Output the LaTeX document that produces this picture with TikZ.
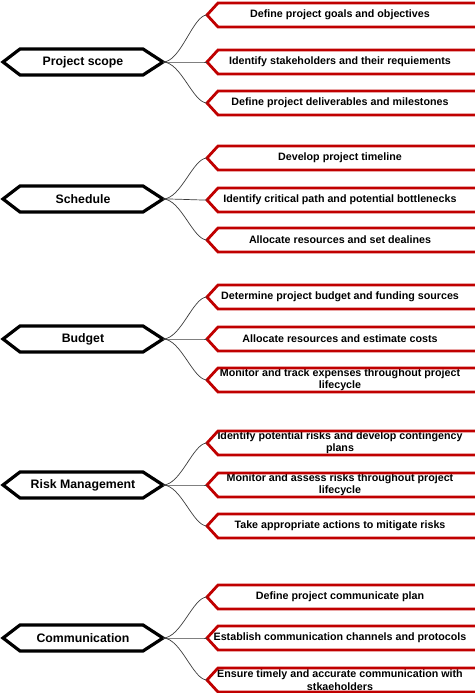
\documentclass[tikz,border=0pt]{standalone}
\usepackage{fontspec}
\setmainfont{Liberation Sans}
\definecolor{boxred}{RGB}{192,0,0}
\definecolor{linkgray}{RGB}{60,60,60}
\tikzset{
  parentbox/.style={minimum width=160pt, minimum height=26pt, inner sep=0pt, outer sep=0pt,
    font=\fontsize{12.3}{14}\selectfont\bfseries},
  childbox/.style={anchor=west, minimum width=266pt, minimum height=24pt, inner sep=0pt, outer sep=0pt,
    text width=262pt, align=flush center, font=\fontsize{10.7}{12.4}\selectfont\bfseries},
  parentline/.style={draw=black, line width=3.2pt, line join=miter},
  childline/.style={draw=boxred, line width=2.8pt, line join=miter},
  link/.style={draw=linkgray, line width=0.7pt},
}
\newcommand{\hexbox}[1]{\path[parentline] (#1.west) -- ([xshift=17pt]#1.north west) -- ([xshift=-20pt]#1.north east) -- (#1.east) -- ([xshift=-20pt]#1.south east) -- ([xshift=17pt]#1.south west) -- cycle;}
\newcommand{\chevbox}[1]{\path[childline] ([xshift=20pt]#1.north east) -- ([xshift=11pt]#1.north west) -- (#1.west) -- ([xshift=11pt]#1.south west) -- ([xshift=20pt]#1.south east);}
\newcommand{\linkto}[2]{\path[link] (#1.east) .. controls +(18,0) and +(-14,0) .. (#2.west);}
\begin{document}
\begin{tikzpicture}[x=1pt,y=-1pt]
\useasboundingbox (0,0) rectangle (474,693);
% group 1
\node[parentbox] (p1) at (83,62) {Project scope};
\node[childbox] (c11) at (207,15) {Define project goals and objectives};
\node[childbox] (c12) at (207,62) {Identify stakeholders and their requiements};
\node[childbox] (c13) at (207,103) {Define project deliverables and milestones};
% group 2
\node[parentbox] (p2) at (83,199) {Schedule};
\node[childbox] (c21) at (207,158) {Develop project timeline};
\node[childbox] (c22) at (207,200) {Identify critical path and potential bottlenecks};
\node[childbox] (c23) at (207,240) {Allocate resources and set dealines};
% group 3
\node[parentbox] (p3) at (83,339) {Budget};
\node[childbox] (c31) at (207,297) {Determine project budget and funding sources};
\node[childbox] (c32) at (207,339) {Allocate resources and estimate costs};
\node[childbox] (c33) at (207,380) {Monitor and track expenses throughout project\\lifecycle};
% group 4
\node[parentbox] (p4) at (83,485) {Risk Management};
\node[childbox] (c41) at (207,443) {Identify potential risks and develop contingency\\plans};
\node[childbox] (c42) at (207,485) {Monitor and assess risks throughout project\\lifecycle};
\node[childbox] (c43) at (207,526) {Take appropriate actions to mitigate risks};
% group 5
\node[parentbox] (p5) at (83,638) {Communication};
\node[childbox] (c51) at (207,597) {Define project communicate plan};
\node[childbox] (c52) at (207,638) {Establish communication channels and protocols};
\node[childbox] (c53) at (207,680) {Ensure timely and accurate communication with\\stkaeholders};
% outlines
\foreach \p in {p1,p2,p3,p4,p5} {\hexbox{\p}}
\foreach \c in {c11,c12,c13,c21,c22,c23,c31,c32,c33,c41,c42,c43,c51,c52,c53} {\chevbox{\c}}
% connectors
\foreach \g in {1,...,5} {
  \foreach \k in {1,2,3} {\linkto{p\g}{c\g\k}}
}
\end{tikzpicture}
\end{document}
